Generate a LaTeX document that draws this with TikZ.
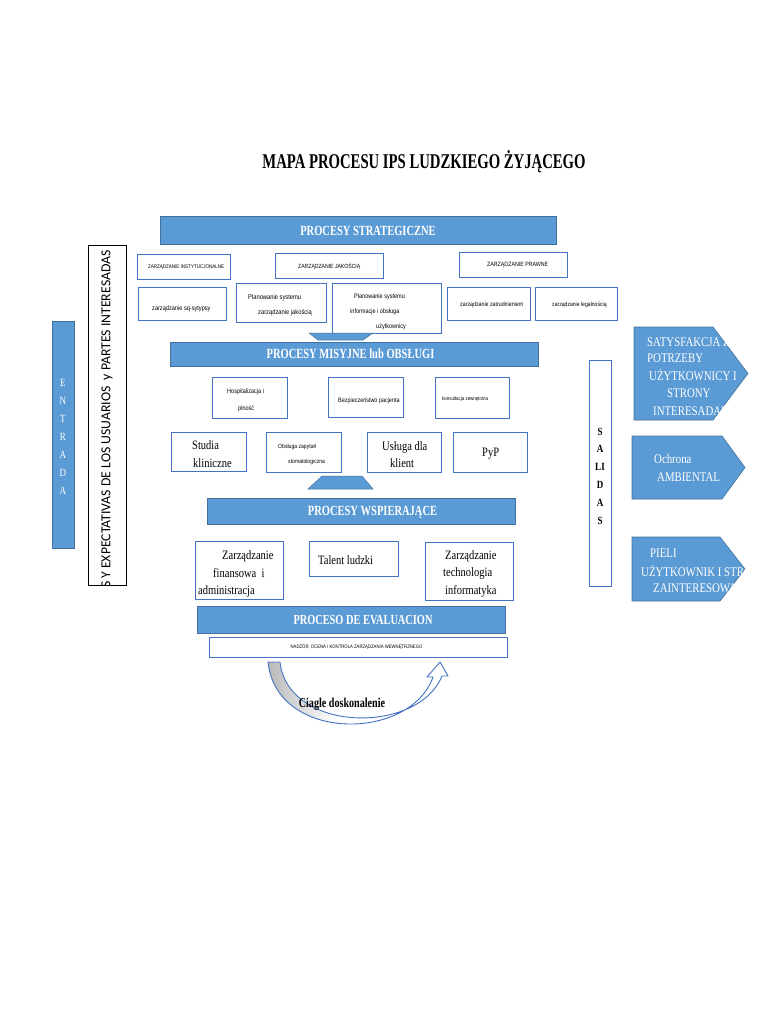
\documentclass[tikz,border=0pt]{standalone}
\usepackage{fontspec}
\setmainfont{Liberation Serif}
\newfontfamily\ttlf[FakeStretch=0.7]{Liberation Serif}
\newfontfamily\bndf[FakeStretch=0.75]{Liberation Serif}
\newfontfamily\bxsf[FakeStretch=0.82]{Liberation Serif}
\newfontfamily\smlf[FakeStretch=0.85]{Liberation Sans}
\newfontfamily\calf{Carlito}
\definecolor{bfill}{HTML}{5B9BD5}
\definecolor{bline}{HTML}{41719C}
\definecolor{boxline}{HTML}{4472C4}
\tikzset{
  band/.style={draw=bline, fill=bfill, line width=0.8pt, inner sep=0pt},
  bandtxt/.style={inner sep=0pt, text=white, font=\bndf\bfseries\fontsize{14}{16}\selectfont},
  wbox/.style={draw=boxline, fill=white, line width=0.9pt, inner sep=0pt},
  stxt/.style={inner sep=0pt, anchor=west, font=\smlf\fontsize{6.2}{7}\selectfont},
  capstxt/.style={inner sep=0pt, anchor=west, font=\smlf\fontsize{5}{6}\selectfont},
  sertxt/.style={inner sep=0pt, anchor=west, font=\bxsf\fontsize{12.8}{15}\selectfont},
  arrtxt/.style={inner sep=0pt, anchor=west, text=white, font=\bxsf\fontsize{13.2}{15}\selectfont},
  blockarrow/.style={fill=bfill, draw=bline, line width=0.6pt},
  trapez/.style={fill=bfill, draw=bline, line width=0.5pt}
}
\begin{document}
\begin{tikzpicture}[x=1pt,y=-1pt]
\useasboundingbox (0,0) rectangle (768,1024);
% title
\node[inner sep=0pt, font=\ttlf\bfseries\fontsize{21}{24}\selectfont] (title) at (424,162) {MAPA PROCESU IPS LUDZKIEGO ŻYJĄCEGO};

% strategic band
\node[band, minimum width=396pt, minimum height=28pt] (strat) at (358,230) {};
\node[bandtxt] (strattxt) at (368,231) {PROCESY STRATEGICZNE};

% row 1
\node[wbox, minimum width=93pt, minimum height=25pt] (b1) at (183.5,266.5) {};
\node[capstxt, font=\smlf\fontsize{5.3}{6}\selectfont] (b1t) at (148,267) {ZARZĄDZANIE INSTYTUCJONALNE};
\node[wbox, minimum width=108pt, minimum height=25pt] (b2) at (329,265.5) {};
\node[capstxt, font=\smlf\fontsize{6}{6}\selectfont] (b2t) at (298,266) {ZARZĄDZANIE JAKOŚCIĄ};
\node[wbox, minimum width=108pt, minimum height=25pt] (b3) at (513,264.5) {};
\node[capstxt, font=\smlf\fontsize{6.2}{6}\selectfont] (b3t) at (487,265) {ZARZĄDZANIE PRAWNE};

% row 2
\node[wbox, minimum width=88pt, minimum height=33pt] (c1) at (182,303.5) {};
\node[stxt, font=\smlf\fontsize{6.6}{7}\selectfont] (c1t) at (152,309) {zarządzanie sq-sytypsy};
\node[wbox, minimum width=90pt, minimum height=39pt] (c2) at (281,302.5) {};
\node[stxt, font=\smlf\fontsize{6.8}{7}\selectfont] (c2a) at (248,298) {Planowanie systemu};
\node[stxt, font=\smlf\fontsize{6.8}{7}\selectfont] (c2b) at (258,313) {zarządzanie jakością};
\node[wbox, minimum width=109pt, minimum height=50pt] (c3) at (386.5,308) {};
\node[stxt, font=\smlf\fontsize{6.5}{7}\selectfont] (c3a) at (354,297) {Planowanie systemu};
\node[stxt, font=\smlf\fontsize{6.5}{7}\selectfont] (c3b) at (350,312) {informacje i obsługa};
\node[stxt, font=\smlf\fontsize{6.5}{7}\selectfont] (c3c) at (376,327) {użytkownicy};
\node[wbox, minimum width=83pt, minimum height=33pt] (c4) at (488.5,303.5) {};
\node[stxt] (c4t) at (460,305) {zarządzanie zatrudnieniem};
\node[wbox, minimum width=82pt, minimum height=33pt] (c5) at (576,303.5) {};
\node[stxt, font=\smlf\fontsize{6}{7}\selectfont] (c5t) at (552,305) {zarządzanie legalnością};

% connector shape 1
\path[trapez] (309,333) -- (373,333) -- (363,340) -- (318,340) -- cycle;

% mission band
\node[band, minimum width=368pt, minimum height=24pt] (misyjne) at (354,354) {};
\node[bandtxt] (misyjnetxt) at (350.5,354) {PROCESY MISYJNE lub OBSŁUGI};

\node[wbox, minimum width=75pt, minimum height=41pt] (d1) at (249.5,397.5) {};
\node[stxt, font=\smlf\fontsize{6.5}{7}\selectfont] (d1a) at (227,392) {Hospitalizacja i};
\node[stxt, font=\smlf\fontsize{6.5}{7}\selectfont] (d1b) at (238,409) {płność};
\node[wbox, minimum width=75pt, minimum height=40pt] (d2) at (365.5,397) {};
\node[stxt, font=\smlf\fontsize{6.4}{7}\selectfont] (d2t) at (338,401) {Bezpieczeństwo pacjenta};
\node[wbox, minimum width=74pt, minimum height=41pt] (d3) at (472,397.5) {};
\node[stxt, font=\smlf\fontsize{5.2}{6}\selectfont] (d3t) at (442,399) {konsultacja zewnętrzna};

\node[wbox, minimum width=75pt, minimum height=39pt] (e1) at (208.5,451.5) {};
\node[sertxt] (e1a) at (192,445) {Studia};
\node[sertxt] (e1b) at (193,463) {kliniczne};
\node[wbox, minimum width=75pt, minimum height=40pt] (e2) at (303.5,452) {};
\node[stxt, font=\smlf\fontsize{6}{7}\selectfont] (e2a) at (278,447) {Obsługa zapytań};
\node[stxt, font=\smlf\fontsize{6}{7}\selectfont] (e2b) at (288,462) {stomatologiczna};
\node[wbox, minimum width=74pt, minimum height=40pt] (e3) at (404,452) {};
\node[sertxt] (e3a) at (382,447) {Usługa dla};
\node[sertxt] (e3b) at (390,463) {klient};
\node[wbox, minimum width=74pt, minimum height=40pt] (e4) at (490,452) {};
\node[sertxt] (e4t) at (482,454) {PyP};

% connector shape 2
\path[trapez] (322,476) -- (362,476) -- (373,489) -- (308,489) -- cycle;

% support band
\node[band, minimum width=308pt, minimum height=26pt] (wsp) at (361,511) {};
\node[bandtxt] (wsptxt) at (372.5,512) {PROCESY WSPIERAJĄCE};

\node[wbox, minimum width=88pt, minimum height=58pt] (f1) at (239,570) {};
\node[sertxt] (f1a) at (222,556) {Zarządzanie};
\node[sertxt] (f1b) at (213,573) {finansowa\ \ i};
\node[sertxt] (f1c) at (198,591) {administracja};
\node[wbox, minimum width=89pt, minimum height=35pt] (f2) at (353.5,558.5) {};
\node[sertxt] (f2t) at (318,560) {Talent ludzki};
\node[wbox, minimum width=88pt, minimum height=58pt] (f3) at (469,571) {};
\node[sertxt] (f3a) at (445,556) {Zarządzanie};
\node[sertxt] (f3b) at (443,573) {technologia};
\node[sertxt] (f3c) at (445,591) {informatyka};

% evaluation band
\node[band, minimum width=308pt, minimum height=27pt] (eval) at (351,619.5) {};
\node[bandtxt, font=\bndf\bfseries\fontsize{13.8}{16}\selectfont] (evaltxt) at (363,620) {PROCESO DE EVALUACION};
\node[wbox, minimum width=298pt, minimum height=20pt] (nadzor) at (358,647) {};
\node[inner sep=0pt, font=\smlf\fontsize{5}{6}\selectfont] (nadzortxt) at (356.5,647) {NADZÓR, OCENA I KONTROLA ZARZĄDZANIA WEWNĘTRZNEGO};

% continuous improvement curved arrow
\path[fill=white] (268,662) .. controls (276,742) and (410,742) .. (433,677) -- (427,677) -- (440,662) -- (448,676) -- (442,676) .. controls (418,735) and (288,733) .. (280,662) -- cycle;
\begin{scope}
\clip (268,662) .. controls (276,742) and (410,742) .. (433,677) -- (427,677) -- (440,662) -- (448,676) -- (442,676) .. controls (418,735) and (288,733) .. (280,662) -- cycle;
\shade[left color=black!30, right color=white] (262,655) rectangle (335,735);
\end{scope}
\path[draw=boxline, line width=0.9pt, line join=round] (268,662) .. controls (276,742) and (410,742) .. (433,677) -- (427,677) -- (440,662) -- (448,676) -- (442,676) .. controls (418,735) and (288,733) .. (280,662) -- cycle;
\node[inner sep=0pt, font=\bndf\bfseries\fontsize{13.5}{16}\selectfont] (ciagle) at (342,704) {Ciagle doskonalenie};

% ENTRADA
\node[band, minimum width=22pt, minimum height=227pt] (entrada) at (63,434.5) {};
\node[inner sep=0pt, text=white, align=center, font=\bxsf\fontsize{11}{18}\selectfont] (entradatxt) at (63,437) {E\\N\\T\\R\\A\\D\\A};

% vertical text box
\node[draw=black, fill=white, line width=0.9pt, minimum width=38pt, minimum height=340pt, inner sep=0pt] (vbox) at (107,415) {};
\begin{scope}
\clip (88.5,245.5) rectangle (125.5,584.5);
\node[rotate=90, anchor=east, inner sep=0pt, font=\calf\fontsize{13.75}{15}\selectfont] (vtxt) at (107,250) {NECESIDADES Y EXPECTATIVAS DE LOS USUARIOS\ \ y PARTES INTERESADAS};
\end{scope}

% SALIDAS
\node[wbox, minimum width=22pt, minimum height=226pt] (salidas) at (600,473) {};
\node[inner sep=0pt, align=center, font=\bxsf\bfseries\fontsize{11}{17.8}\selectfont] (salidastxt) at (600,476) {S\\A\\LI\\D\\A\\S};

% output arrows
\path[blockarrow] (634,327) -- (713,327) -- (748,373.5) -- (713,420) -- (634,420) -- cycle;
\begin{scope}
\clip (634,327) -- (713,327) -- (748,373.5) -- (713,420) -- (634,420) -- cycle;
\node[arrtxt] (o1a) at (647,342) {SATYSFAKCJA Z};
\node[arrtxt] (o1b) at (647,358) {POTRZEBY};
\node[arrtxt] (o1c) at (649,375) {UŻYTKOWNICY I};
\node[arrtxt] (o1d) at (667,393) {STRONY};
\node[arrtxt] (o1e) at (653,411) {INTERESADAMI};
\end{scope}
\path[blockarrow] (632,436) -- (722,436) -- (745,467.5) -- (722,499) -- (632,499) -- cycle;
\node[arrtxt] (o2a) at (654,459) {Ochrona};
\node[arrtxt] (o2b) at (657,477) {AMBIENTAL};
\path[blockarrow] (632,537) -- (720,537) -- (745,569) -- (720,601) -- (632,601) -- cycle;
\begin{scope}
\clip (632,537) -- (720,537) -- (745,569) -- (720,601) -- (632,601) -- cycle;
\node[arrtxt] (o3a) at (650,553) {PIELI};
\node[arrtxt] (o3b) at (641,571) {UŻYTKOWNIK I STRONY};
\node[arrtxt] (o3c) at (653,588) {ZAINTERESOWANE};
\end{scope}
\end{tikzpicture}
\end{document}
